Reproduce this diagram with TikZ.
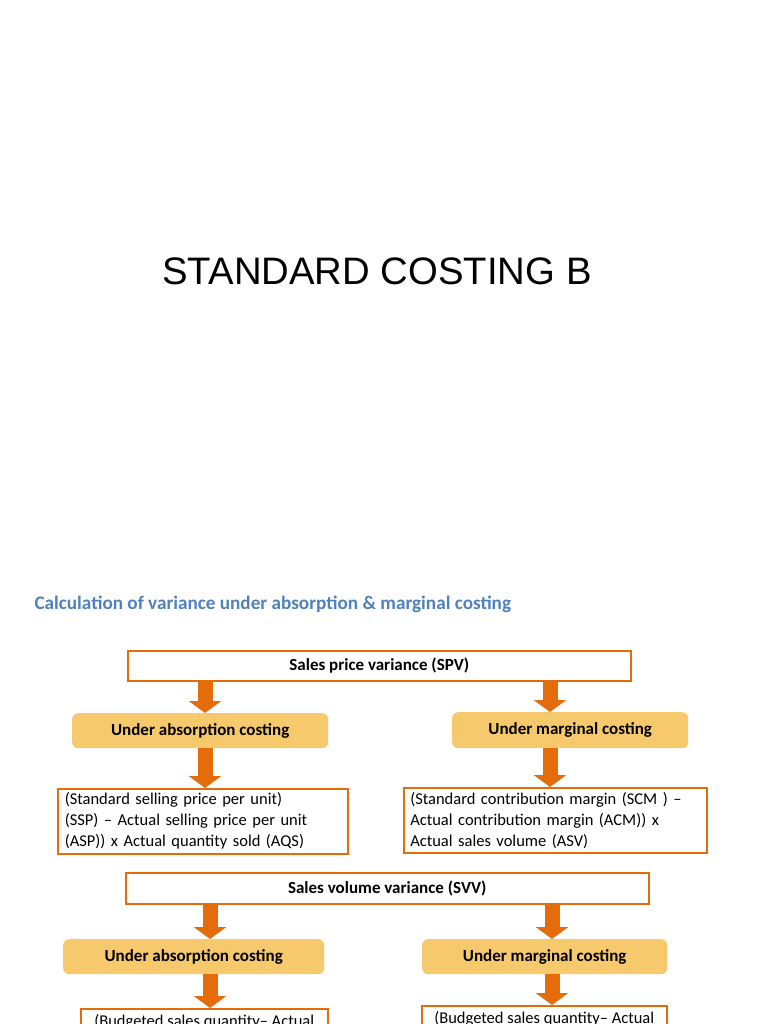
\documentclass[tikz,border=0pt]{standalone}
\usepackage{fontspec}
\setmainfont{Carlito}
\newfontfamily\titlefont{Liberation Sans}
\usepackage{xcolor}
\usepackage{tikz}
\usetikzlibrary{calc}
\usetikzlibrary {arrows.meta}
\definecolor{C1}{HTML}{E46C0A}
\definecolor{C4}{HTML}{F6C96C}
\definecolor{C5}{HTML}{4F81BD}
\tikzset{
  variance/.style={draw=C1, line width=1.5pt, anchor=north west, font=\bfseries\fontsize{17}{20}\selectfont},
  method/.style={fill=C4, rounded corners=6pt, anchor=north west, font=\bfseries\fontsize{17}{20}\selectfont},
  formula/.style={draw=C1, line width=1.5pt, anchor=north west, align=left, font=\fontsize{16.5}{21}\selectfont},
  blockarrow/.style={C1, line width=15pt, -{Triangle[width=32pt,length=12pt]}}
}

\begin{document}
\begin{tikzpicture}[x=1pt,y=-1pt]
\useasboundingbox (0,0) rectangle (768,1024);
\clip (0,0) rectangle (768,1024);
%
\node (title) at (377,271) {\titlefont\fontsize{38.3}{44}\selectfont STANDARD COSTING B};
\node[anchor=west, text=C5, font=\bfseries\fontsize{19.2}{23}\selectfont] (subtitle) at (31,604) {Calculation of variance under absorption \& marginal costing};
%
% arrow columns
\coordinate (colA1) at (205,0);
\coordinate (colB1) at (550,0);
\coordinate (colA2) at (210,0);
\coordinate (colB2) at (552,0);
%
% sales price variance
\node[variance, minimum width=503pt, minimum height=30pt] (spv) at (127,650) {Sales price variance (SPV)};
\node[method, minimum width=256pt, minimum height=35pt] (spv_abs) at (72,713) {Under absorption costing};
\node[method, minimum width=236pt, minimum height=36pt] (spv_marg) at (452,712) {Under marginal costing};
\node[formula, minimum width=290pt, minimum height=65pt, text width=276pt] (spv_abs_f) at (57,788)
  {(Standard selling price per unit)\\(SSP) -- Actual selling price per unit\\(ASP)) x Actual quantity sold (AQS)};
\node[formula, minimum width=303pt, minimum height=65pt, text width=290pt] (spv_marg_f) at (403,787)
  {(Standard contribution margin (SCM ) --\\Actual contribution margin (ACM)) x\\Actual sales volume (ASV)};
%
\draw[blockarrow] (spv.south -| colA1) -- (spv_abs.north -| colA1);
\draw[blockarrow] (spv.south -| colB1) -- (spv_marg.north -| colB1);
\draw[blockarrow] (spv_abs.south -| colA1) -- (spv_abs_f.north -| colA1);
\draw[blockarrow] (spv_marg.south -| colB1) -- (spv_marg_f.north -| colB1);
%
% sales volume variance
\node[variance, minimum width=523pt, minimum height=31pt] (svv) at (125,872) {Sales volume variance (SVV)};
\node[method, minimum width=261pt, minimum height=35pt] (svv_abs) at (63,939) {Under absorption costing};
\node[method, minimum width=245pt, minimum height=35pt] (svv_marg) at (422,939) {Under marginal costing};
\node[formula, minimum width=247pt, inner sep=0pt] (svv_abs_f) at (80,1008)
  {\rule[-20pt]{0pt}{38pt}(Budgeted sales quantity-- Actual};
\node[formula, minimum width=245pt, inner sep=0pt] (svv_marg_f) at (421,1005)
  {\rule[-20pt]{0pt}{38pt}(Budgeted sales quantity-- Actual};
%
\draw[blockarrow] (svv.south -| colA2) -- (svv_abs.north -| colA2);
\draw[blockarrow] (svv.south -| colB2) -- (svv_marg.north -| colB2);
\draw[blockarrow] (svv_abs.south -| colA2) -- (svv_abs_f.north -| colA2);
\draw[blockarrow] (svv_marg.south -| colB2) -- (svv_marg_f.north -| colB2);
\end{tikzpicture}
\end{document}
